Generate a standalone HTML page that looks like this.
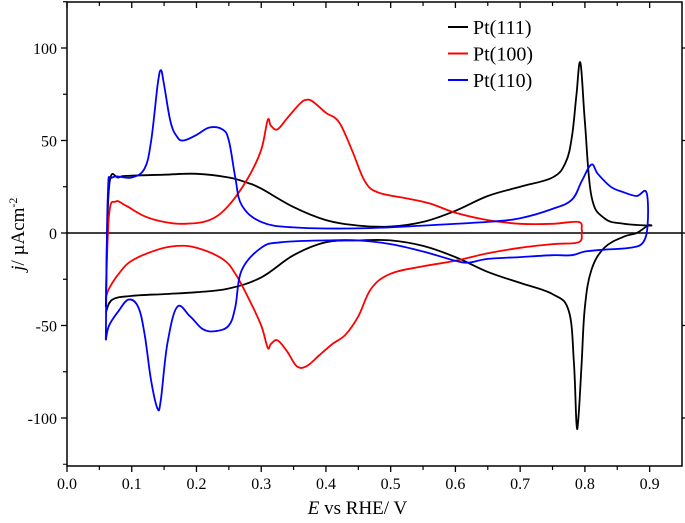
<!DOCTYPE html>
<html><head><meta charset="utf-8"><style>
body{margin:0;background:#fff}
svg{display:block;font-family:"Liberation Serif",serif}
</style></head><body>
<svg id="c" width="685" height="523"></svg>
<script>
const xTicks=[0.0,0.1,0.2,0.3,0.4,0.5,0.6,0.7,0.8,0.9];
const yTicks=[-100,-50,0,50,100];
const seriesNames=["Pt(111)","Pt(100)","Pt(110)"];
const seriesColors=["#000","#f00","#00f"];
const pt111E=[0.06,0.065,0.08,0.1,0.15,0.2,0.25,0.28,0.3,0.35,0.4,0.45,0.5,0.55,0.6,0.65,0.7,0.75,0.77,0.78,0.787,0.793,0.8,0.81,0.83,0.86,0.9,0.897,0.88,0.86,0.83,0.81,0.8,0.795,0.79,0.787,0.783,0.775,0.75,0.7,0.65,0.6,0.55,0.5,0.45,0.4,0.35,0.3,0.25,0.2,0.15,0.1,0.07,0.06];
const pt111J=[-40,25,30,31,31.5,32,30,27,24,14,7,4,3.5,6,12,20,25,30,38,52,75,92,60,20,8,5,4,4,0,-2,-8,-20,-40,-70,-100,-103,-70,-42,-33,-27,-21,-13,-7,-4,-4,-5,-12,-24,-30,-32,-33,-34,-36,-43];
const pt100E=[0.06,0.065,0.075,0.09,0.12,0.15,0.18,0.22,0.25,0.28,0.3,0.31,0.315,0.325,0.34,0.36,0.37,0.38,0.4,0.42,0.44,0.46,0.48,0.52,0.56,0.6,0.65,0.7,0.75,0.79,0.795,0.795,0.79,0.75,0.7,0.65,0.6,0.55,0.5,0.47,0.45,0.43,0.41,0.39,0.37,0.355,0.34,0.325,0.315,0.31,0.3,0.28,0.26,0.24,0.2,0.17,0.14,0.1,0.08,0.065,0.06];
const pt100J=[-35,10,17,15,9,6,5,7,15,30,45,61,58,56,62,70,72,71,65,60,45,28,22,19,16,11,7,5,5,6,2,0,-5,-6,-8,-11,-15,-18,-22,-30,-45,-55,-60,-66,-72,-72,-64,-58,-60,-62,-50,-35,-22,-14,-8,-7,-9,-15,-22,-30,-35];
const pt110E=[0.06,0.063,0.07,0.1,0.12,0.13,0.14,0.145,0.15,0.16,0.17,0.18,0.2,0.22,0.24,0.25,0.26,0.27,0.3,0.35,0.45,0.55,0.65,0.7,0.75,0.78,0.795,0.81,0.82,0.84,0.86,0.88,0.895,0.897,0.89,0.87,0.83,0.8,0.78,0.75,0.7,0.65,0.62,0.6,0.55,0.5,0.45,0.4,0.33,0.3,0.27,0.26,0.25,0.23,0.21,0.19,0.17,0.155,0.145,0.14,0.13,0.12,0.11,0.095,0.08,0.065,0.06];
const pt110J=[-58,20,30,30,35,50,80,88,80,60,52,50,53,57,56,50,30,15,6,3,2.5,4,6,8,13,18,28,37,32,25,22,20,22,5,-5,-8,-9,-10,-12,-12,-13,-14,-16,-15,-10,-6,-4,-4,-5,-8,-20,-40,-50,-53,-52,-45,-40,-60,-90,-95,-80,-55,-40,-36,-42,-50,-58];
const L=67,R=682,T=2,B=466;
const X=v=>L+(v-0)/(0.95)*(R-L);
const Y=v=>233-v*1.85;
const svg=document.getElementById('c');
const NS='http://www.w3.org/2000/svg';
function mk(t,a,p){const e=document.createElementNS(NS,t);for(const k in a)e.setAttribute(k,a[k]);(p||svg).appendChild(e);return e;}
function smooth(pts){
 let d='M'+pts[0][0].toFixed(1)+','+pts[0][1].toFixed(1);
 for(let i=0;i<pts.length-1;i++){
  const p0=pts[Math.max(0,i-1)],p1=pts[i],p2=pts[i+1],p3=pts[Math.min(pts.length-1,i+2)];
  const k=0.18;
  const c1=[p1[0]+(p2[0]-p0[0])*k,p1[1]+(p2[1]-p0[1])*k];
  const c2=[p2[0]-(p3[0]-p1[0])*k,p2[1]-(p3[1]-p1[1])*k];
  d+='C'+c1[0].toFixed(1)+','+c1[1].toFixed(1)+' '+c2[0].toFixed(1)+','+c2[1].toFixed(1)+' '+p2[0].toFixed(1)+','+p2[1].toFixed(1);
 }
 return d;
}
const z=mk('line',{x1:L,x2:R,y1:Y(0),y2:Y(0),stroke:'#000','stroke-width':1.5});


const allE=[pt111E,pt100E,pt110E],allJ=[pt111J,pt100J,pt110J];
const ids=['pt111-curve','pt100-curve','pt110-curve'];
for(let s=0;s<3;s++){
 const pts=allE[s].map((e,i)=>[X(e),Y(allJ[s][i])]);
 const p=mk('path',{d:smooth(pts),fill:'none',stroke:seriesColors[s],'stroke-width':1.8,'stroke-linejoin':'round'});
 
 
}
const f=mk('rect',{x:L,y:T,width:R-L,height:B-T,fill:'none',stroke:'#000','stroke-width':1.5});


for(let i=0;i<xTicks.length;i++){
 const x=X(xTicks[i]);
 mk('line',{x1:x,x2:x,y1:B,y2:B+6,stroke:'#000','stroke-width':1.3});
 mk('line',{x1:x,x2:x,y1:T,y2:T+6,stroke:'#000','stroke-width':1.3});
 const xm=X(xTicks[i]+0.05);
 if(xm<R){mk('line',{x1:xm,x2:xm,y1:B,y2:B+4,stroke:'#000','stroke-width':1.2});mk('line',{x1:xm,x2:xm,y1:T,y2:T+4,stroke:'#000','stroke-width':1.2});}
 const t=mk('text',{x:x,y:B+23,'text-anchor':'middle','font-size':16});
 t.textContent=xTicks[i].toFixed(1);
 
 
}
for(let i=0;i<yTicks.length;i++){
 const y=Y(yTicks[i]);
 mk('line',{x1:L-6,x2:L,y1:y,y2:y,stroke:'#000','stroke-width':1.3});
 mk('line',{x1:R,x2:R+6,y1:y,y2:y,stroke:'#000','stroke-width':1.3});
 const ym=Y(yTicks[i]+25);
 mk('line',{x1:L-4,x2:L,y1:ym,y2:ym,stroke:'#000','stroke-width':1.2});
 const t=mk('text',{x:L-10,y:y+6,'text-anchor':'end','font-size':16});
 t.textContent=yTicks[i];
 
 
}
mk('line',{x1:L-4,x2:L,y1:Y(-125),y2:Y(-125),stroke:'#000'});
for(let s=0;s<3;s++){
 const y=27+s*26.5;
 const l=mk('line',{x1:448,x2:468,y1:y,y2:y,stroke:seriesColors[s],'stroke-width':2});
 
 
 const t=mk('text',{x:473,y:y+7,'font-size':20});
 t.textContent=seriesNames[s];
 
 
}
</script>
<div style="position:absolute;left:0;top:0;width:685px;height:523px;pointer-events:none;font-family:'Liberation Serif',serif">
<div style="position:absolute;left:0;width:685px;top:498px;text-align:center;font-size:19px;padding-left:30px;box-sizing:border-box"><i>E</i> vs RHE/ V</div>
<div style="position:absolute;left:-52px;top:222px;width:140px;text-align:center;font-size:19px;transform:rotate(-90deg)"><i>j</i>/ µAcm<sup style="font-size:12px">-2</sup></div>
</div>
</body></html>
